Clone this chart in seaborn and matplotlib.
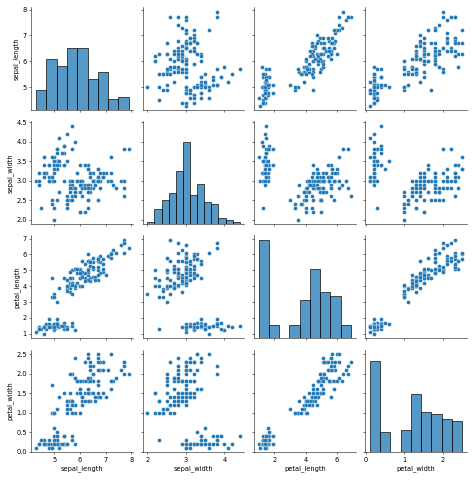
import matplotlib
matplotlib.use("Agg")
import seaborn as sns
import pandas as pd
import matplotlib.pyplot as plt

sepal_length = [5.1,4.9,4.7,4.6,5.0,5.4,4.6,5.0,4.4,4.9,5.4,4.8,4.8,4.3,5.8,5.7,5.4,5.1,5.7,5.1,5.4,5.1,4.6,5.1,4.8,5.0,5.0,5.2,5.2,4.7,4.8,5.4,5.2,5.5,4.9,5.0,5.5,4.9,4.4,5.1,5.0,4.5,4.4,5.0,5.1,4.8,5.1,4.6,5.3,5.0,
 7.0,6.4,6.9,5.5,6.5,5.7,6.3,4.9,6.6,5.2,5.0,5.9,6.0,6.1,5.6,6.7,5.6,5.8,6.2,5.6,5.9,6.1,6.3,6.1,6.4,6.6,6.8,6.7,6.0,5.7,5.5,5.5,5.8,6.0,5.4,6.0,6.7,6.3,5.6,5.5,5.5,6.1,5.8,5.0,5.6,5.7,5.7,6.2,5.1,5.7,
 6.3,5.8,7.1,6.3,6.5,7.6,4.9,7.3,6.7,7.2,6.5,6.4,6.8,5.7,5.8,6.4,6.5,7.7,7.7,6.0,6.9,5.6,7.7,6.3,6.7,7.2,6.2,6.1,6.4,7.2,7.4,7.9,6.4,6.3,6.1,7.7,6.3,6.4,6.0,6.9,6.7,6.9,5.8,6.8,6.7,6.7,6.3,6.5,6.2,5.9]
sepal_width = [3.5,3.0,3.2,3.1,3.6,3.9,3.4,3.4,2.9,3.1,3.7,3.4,3.0,3.0,4.0,4.4,3.9,3.5,3.8,3.8,3.4,3.7,3.6,3.3,3.4,3.0,3.4,3.5,3.4,3.2,3.1,3.4,4.1,4.2,3.1,3.2,3.5,3.6,3.0,3.4,3.5,2.3,3.2,3.5,3.8,3.0,3.8,3.2,3.7,3.3,
 3.2,3.2,3.1,2.3,2.8,2.8,3.3,2.4,2.9,2.7,2.0,3.0,2.2,2.9,2.9,3.1,3.0,2.7,2.2,2.5,3.2,2.8,2.5,2.8,2.9,3.0,2.8,3.0,2.9,2.6,2.4,2.4,2.7,2.7,3.0,3.4,3.1,2.3,3.0,2.5,2.6,3.0,2.6,2.3,2.7,3.0,2.9,2.9,2.5,2.8,
 3.3,2.7,3.0,2.9,3.0,3.0,2.5,2.9,2.5,3.6,3.2,2.7,3.0,2.5,2.8,3.2,3.0,3.8,2.6,2.2,3.2,2.8,2.8,2.7,3.3,3.2,2.8,3.0,2.8,3.0,2.8,3.8,2.8,2.8,2.6,3.0,3.4,3.1,3.0,3.1,3.1,3.1,2.7,3.2,3.3,3.0,2.5,3.0,3.4,3.0]
petal_length = [1.4,1.4,1.3,1.5,1.4,1.7,1.4,1.5,1.4,1.5,1.5,1.6,1.4,1.1,1.2,1.5,1.3,1.4,1.7,1.5,1.7,1.5,1.0,1.7,1.9,1.6,1.6,1.5,1.4,1.6,1.6,1.5,1.5,1.4,1.5,1.2,1.3,1.4,1.3,1.5,1.3,1.3,1.3,1.6,1.9,1.4,1.6,1.4,1.5,1.4,
 4.7,4.5,4.9,4.0,4.6,4.5,4.7,3.3,4.6,3.9,3.5,4.2,4.0,4.7,3.6,4.4,4.5,4.1,4.5,3.9,4.8,4.0,4.9,4.7,4.3,4.4,4.8,5.0,4.5,3.5,3.8,3.7,3.9,5.1,4.5,4.5,4.7,4.4,4.1,4.0,4.4,4.6,4.0,3.3,4.2,4.2,4.2,4.3,3.0,4.1,
 6.0,5.1,5.9,5.6,5.8,6.6,4.5,6.3,5.8,6.1,5.1,5.3,5.5,5.0,5.1,5.3,5.5,6.7,6.9,5.0,5.7,4.9,6.7,4.9,5.7,6.0,4.8,4.9,5.6,5.8,6.1,6.4,5.6,5.1,5.6,6.1,5.6,5.5,4.8,5.4,5.6,5.1,5.1,5.9,5.7,5.2,5.0,5.2,5.4,5.1]
petal_width = [0.2,0.2,0.2,0.2,0.2,0.4,0.3,0.2,0.2,0.1,0.2,0.2,0.1,0.1,0.2,0.4,0.4,0.3,0.3,0.3,0.2,0.4,0.2,0.5,0.2,0.2,0.4,0.2,0.2,0.2,0.2,0.4,0.1,0.2,0.2,0.2,0.2,0.1,0.2,0.2,0.3,0.3,0.2,0.6,0.4,0.3,0.2,0.2,0.2,0.2,
 1.4,1.5,1.5,1.3,1.5,1.3,1.6,1.0,1.3,1.4,1.0,1.5,1.0,1.4,1.3,1.4,1.5,1.0,1.5,1.1,1.8,1.3,1.5,1.2,1.3,1.4,1.4,1.7,1.5,1.0,1.1,1.0,1.2,1.6,1.5,1.6,1.5,1.3,1.3,1.3,1.2,1.4,1.2,1.0,1.3,1.2,1.3,1.3,1.1,1.3,
 2.5,1.9,2.1,1.8,2.2,2.1,1.7,1.8,1.8,2.5,2.0,1.9,2.1,2.0,2.4,2.3,1.8,2.2,2.3,1.5,2.3,2.0,2.0,1.8,2.1,1.8,1.8,1.8,2.1,1.6,1.9,2.0,2.2,1.5,1.4,2.3,2.4,1.8,1.8,2.1,2.4,2.3,1.9,2.3,2.5,2.3,1.9,2.0,2.3,1.8]

df = pd.DataFrame({"sepal_length": sepal_length, "sepal_width": sepal_width,
                   "petal_length": petal_length, "petal_width": petal_width})
g = sns.pairplot(df)
g.figure.set_size_inches(10, 10.13)
g.figure.tight_layout()
g.figure.savefig("out.png", dpi=47.4)
